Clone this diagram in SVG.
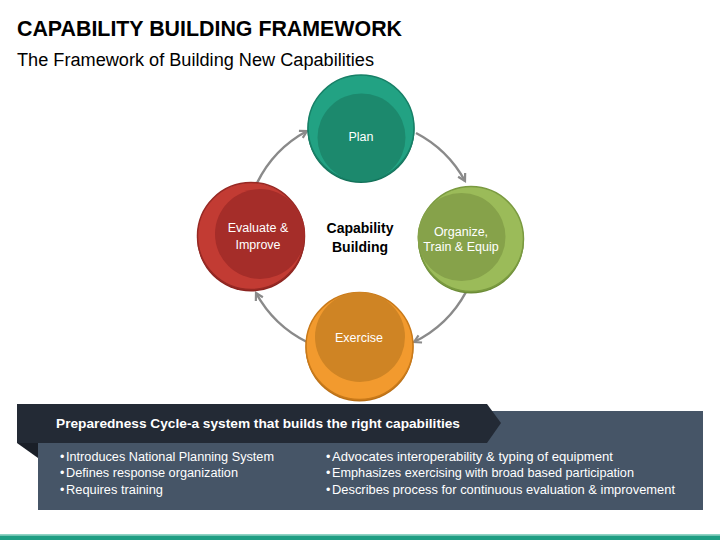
<svg xmlns="http://www.w3.org/2000/svg" width="720" height="540" viewBox="0 0 720 540">
<style>
  .title{font-family:"Liberation Sans",Arial,sans-serif;font-weight:bold;fill:#000}
  .sub{font-family:"Liberation Sans",Arial,sans-serif;fill:#000}
  .lbl{font-family:"Liberation Sans",Arial,sans-serif;font-size:12.5px;fill:#fff;text-anchor:middle}
  .center{font-family:"Liberation Sans",Arial,sans-serif;font-size:14px;font-weight:bold;fill:#000;text-anchor:middle}
  .hdr{font-family:"Liberation Sans",Arial,sans-serif;font-size:13px;font-weight:bold;fill:#fff}
  .bul{font-family:"Liberation Sans",Arial,sans-serif;font-size:12.5px;fill:#fff}
  .arc{fill:none;stroke:#8a8a8a;stroke-width:2.5;marker-end:url(#ah)}
</style>
<defs>
  <marker id="ah" markerUnits="userSpaceOnUse" markerWidth="12" markerHeight="12" refX="8" refY="5" orient="auto">
    <path d="M1,1 L8,5 L1,9" fill="none" stroke="#8a8a8a" stroke-width="2.2"/>
  </marker>
</defs>
<rect width="720" height="540" fill="#fff"/>
<text class="title" x="17" y="36" font-size="22" textLength="385" lengthAdjust="spacingAndGlyphs">CAPABILITY BUILDING FRAMEWORK</text>
<text class="sub" x="17" y="66" font-size="18" textLength="357" lengthAdjust="spacingAndGlyphs">The Framework of Building New Capabilities</text>

<g id="connectors">
  <path class="arc" d="M257,183 A118,118 0 0 1 307,131"/>
  <path class="arc" d="M416,133 A118,118 0 0 1 465,181"/>
  <path class="arc" d="M466,292 A118,118 0 0 1 414,342"/>
  <path class="arc" d="M307,342 A118,118 0 0 1 256,293"/>
</g>

<g id="plan">
  <circle cx="361" cy="129.5" r="53.5" fill="#137058"/>
  <circle cx="361" cy="128" r="53" fill="#22A283" stroke="#178067" stroke-width="1.5"/>
  <circle cx="361.5" cy="137.5" r="44" fill="#1C896D"/>
  <text class="lbl" x="361" y="141">Plan</text>
</g>
<g id="organize">
  <circle cx="471" cy="240.5" r="53" fill="#6A8A35"/>
  <circle cx="471" cy="239" r="52.5" fill="#9BBB59" stroke="#7A9A40" stroke-width="1.5"/>
  <circle cx="461.5" cy="237" r="44" fill="#86A24A"/>
  <text class="lbl" x="461" y="236">Organize,</text>
  <text class="lbl" x="461" y="251">Train &amp; Equip</text>
</g>
<g id="exercise">
  <circle cx="359.5" cy="347.5" r="54" fill="#B86E14"/>
  <circle cx="359.5" cy="346" r="53.5" fill="#F29A2E" stroke="#C97A1A" stroke-width="1.5"/>
  <circle cx="360" cy="337" r="45" fill="#CF8424"/>
  <text class="lbl" x="359" y="342">Exercise</text>
</g>
<g id="evaluate">
  <circle cx="251" cy="237.5" r="54" fill="#8A231F"/>
  <circle cx="251" cy="236" r="53.5" fill="#C23B33" stroke="#972924" stroke-width="1.5"/>
  <circle cx="260" cy="234" r="45" fill="#A52D29"/>
  <text class="lbl" x="258" y="232">Evaluate &amp;</text>
  <text class="lbl" x="258" y="249">Improve</text>
</g>
<g id="center">
  <text class="center" x="360" y="233">Capability</text>
  <text class="center" x="360" y="252">Building</text>
</g>

<g id="panel">
  <rect x="38" y="411" width="665" height="99" fill="#465567"/>
  <polygon points="17,443 38,443 38,458" fill="#1A1F28"/>
  <polygon points="17,404 487,404 501,423 487,443 17,443" fill="#232A35"/>
  <text class="hdr" x="56" y="428" textLength="404" lengthAdjust="spacingAndGlyphs">Preparedness Cycle-a system that builds the right capabilities</text>
  <text class="bul" x="60" y="461">•</text>
  <text class="bul" x="66" y="461" textLength="208" lengthAdjust="spacingAndGlyphs">Introduces National Planning System</text>
  <text class="bul" x="60" y="477">•</text>
  <text class="bul" x="66" y="477" textLength="172" lengthAdjust="spacingAndGlyphs">Defines response organization</text>
  <text class="bul" x="60" y="494">•</text>
  <text class="bul" x="66" y="494" textLength="97" lengthAdjust="spacingAndGlyphs">Requires training</text>
  <text class="bul" x="326" y="461">•</text>
  <text class="bul" x="332" y="461" textLength="281" lengthAdjust="spacingAndGlyphs">Advocates interoperability &amp; typing of equipment</text>
  <text class="bul" x="326" y="477">•</text>
  <text class="bul" x="332" y="477" textLength="302" lengthAdjust="spacingAndGlyphs">Emphasizes exercising with broad based participation</text>
  <text class="bul" x="326" y="494">•</text>
  <text class="bul" x="332" y="494" textLength="343" lengthAdjust="spacingAndGlyphs">Describes process for continuous evaluation &amp; improvement</text>
</g>
<rect x="0" y="534" width="720" height="1.5" fill="#8FD3C3"/>
<rect x="0" y="535.5" width="720" height="4.5" fill="#1F9E83"/>
</svg>
